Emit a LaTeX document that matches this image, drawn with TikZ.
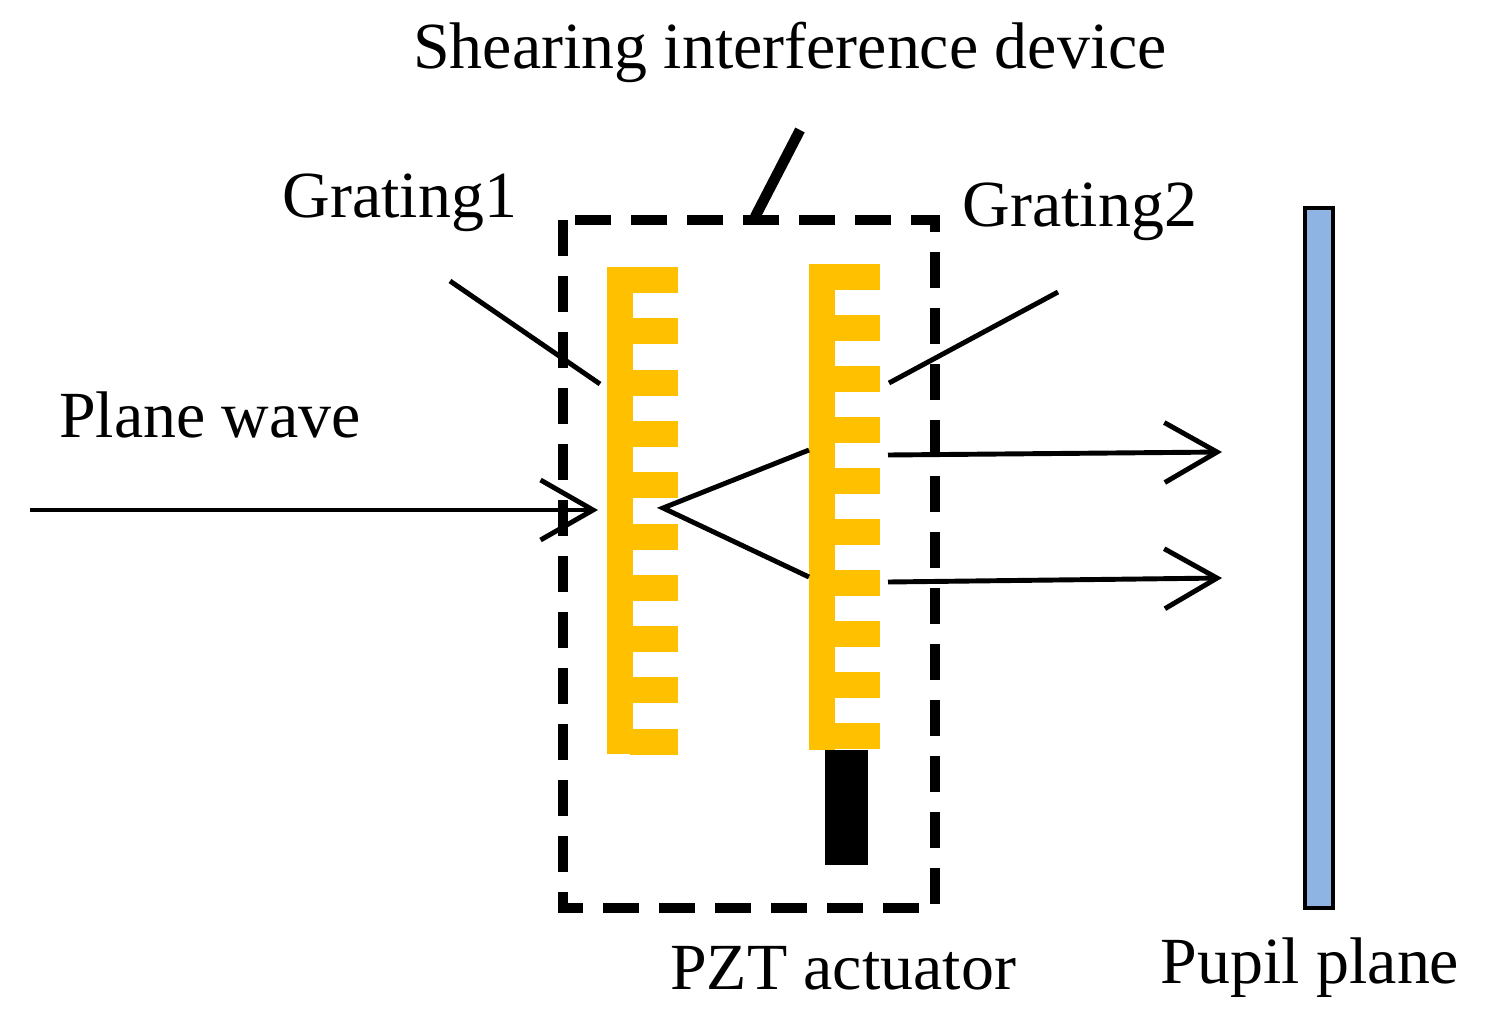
\documentclass[tikz,border=0pt]{standalone}
\usepackage{fontspec}
\setmainfont{Liberation Serif}
\usetikzlibrary{arrows.meta}

\definecolor{gold}{HTML}{FFC000}
\definecolor{pupilblue}{HTML}{8EB4E3}

\begin{document}
\begin{tikzpicture}[x=0.02cm, y=-0.02cm,
		label/.style={font=\fontsize{37.5}{42}\selectfont, inner sep=0pt},
		ray/.style={line width=2.8pt},
		beam/.style={ray, -{Straight Barb[length=1.05cm, width=1.2cm, line width=2.8pt]}}]
		\useasboundingbox (0,0) rectangle (1492,1029);
		
		% gratings
		\fill[gold] (607,267) rectangle (633,754);
		\foreach \k in {0,...,9}
			\fill[gold] (630,267+51.3*\k) rectangle (678,293+51.3*\k);
		\fill[gold] (809,264) rectangle (835,750);
		\foreach \k in {0,...,9}
			\fill[gold] (832,264+51*\k) rectangle (880,290+51*\k);
		
		% PZT and pupil plane
		\fill[black] (825,750) rectangle (868,865);
		\draw[line width=2.5pt, fill=pupilblue] (1305,208) rectangle (1333,908);
		
		% dashed device box
		\draw[line width=6pt, dash pattern=on 0.72cm off 0.4cm] (563,220) rectangle (935,908);
		\draw[line width=6pt] (800,130) -- (755,217);
		
		% rays
		\coordinate (src) at (30,510);
		\coordinate (hit) at (598,510);
		\coordinate (fork) at (663,508);
		\coordinate (up) at (809,450);
		\coordinate (dn) at (809,577);
		\draw[beam] (src) -- (hit);
		\draw[ray] (up) -- (fork) -- (dn);
		\coordinate (o1) at (888,455);
		\coordinate (t1) at (1222,452);
		\coordinate (o2) at (888,582);
		\coordinate (t2) at (1222,578);
		\draw[beam] (o1) -- (t1);
		\draw[beam] (o2) -- (t2);
		
		% leaders
		\coordinate (g1a) at (450,281);
		\coordinate (g1b) at (600,384);
		\coordinate (g2a) at (1058,292);
		\coordinate (g2b) at (889,383);
		\draw[ray] (g1a) -- (g1b);
		\draw[ray] (g2a) -- (g2b);
		
		% labels
		\node[label] (dev) at (790,52) {Shearing interference device};
		\node[label] (gr1) at (400,203) {Grating1};
		\node[label] (gr2) at (1080,212) {Grating2};
		\node[label] (pw) at (210,415) {Plane wave};
		\node[label] (pzt) at (843,968) {PZT actuator};
		\node[label] (pp) at (1310,968) {Pupil plane};
	\end{tikzpicture}
\end{document}
